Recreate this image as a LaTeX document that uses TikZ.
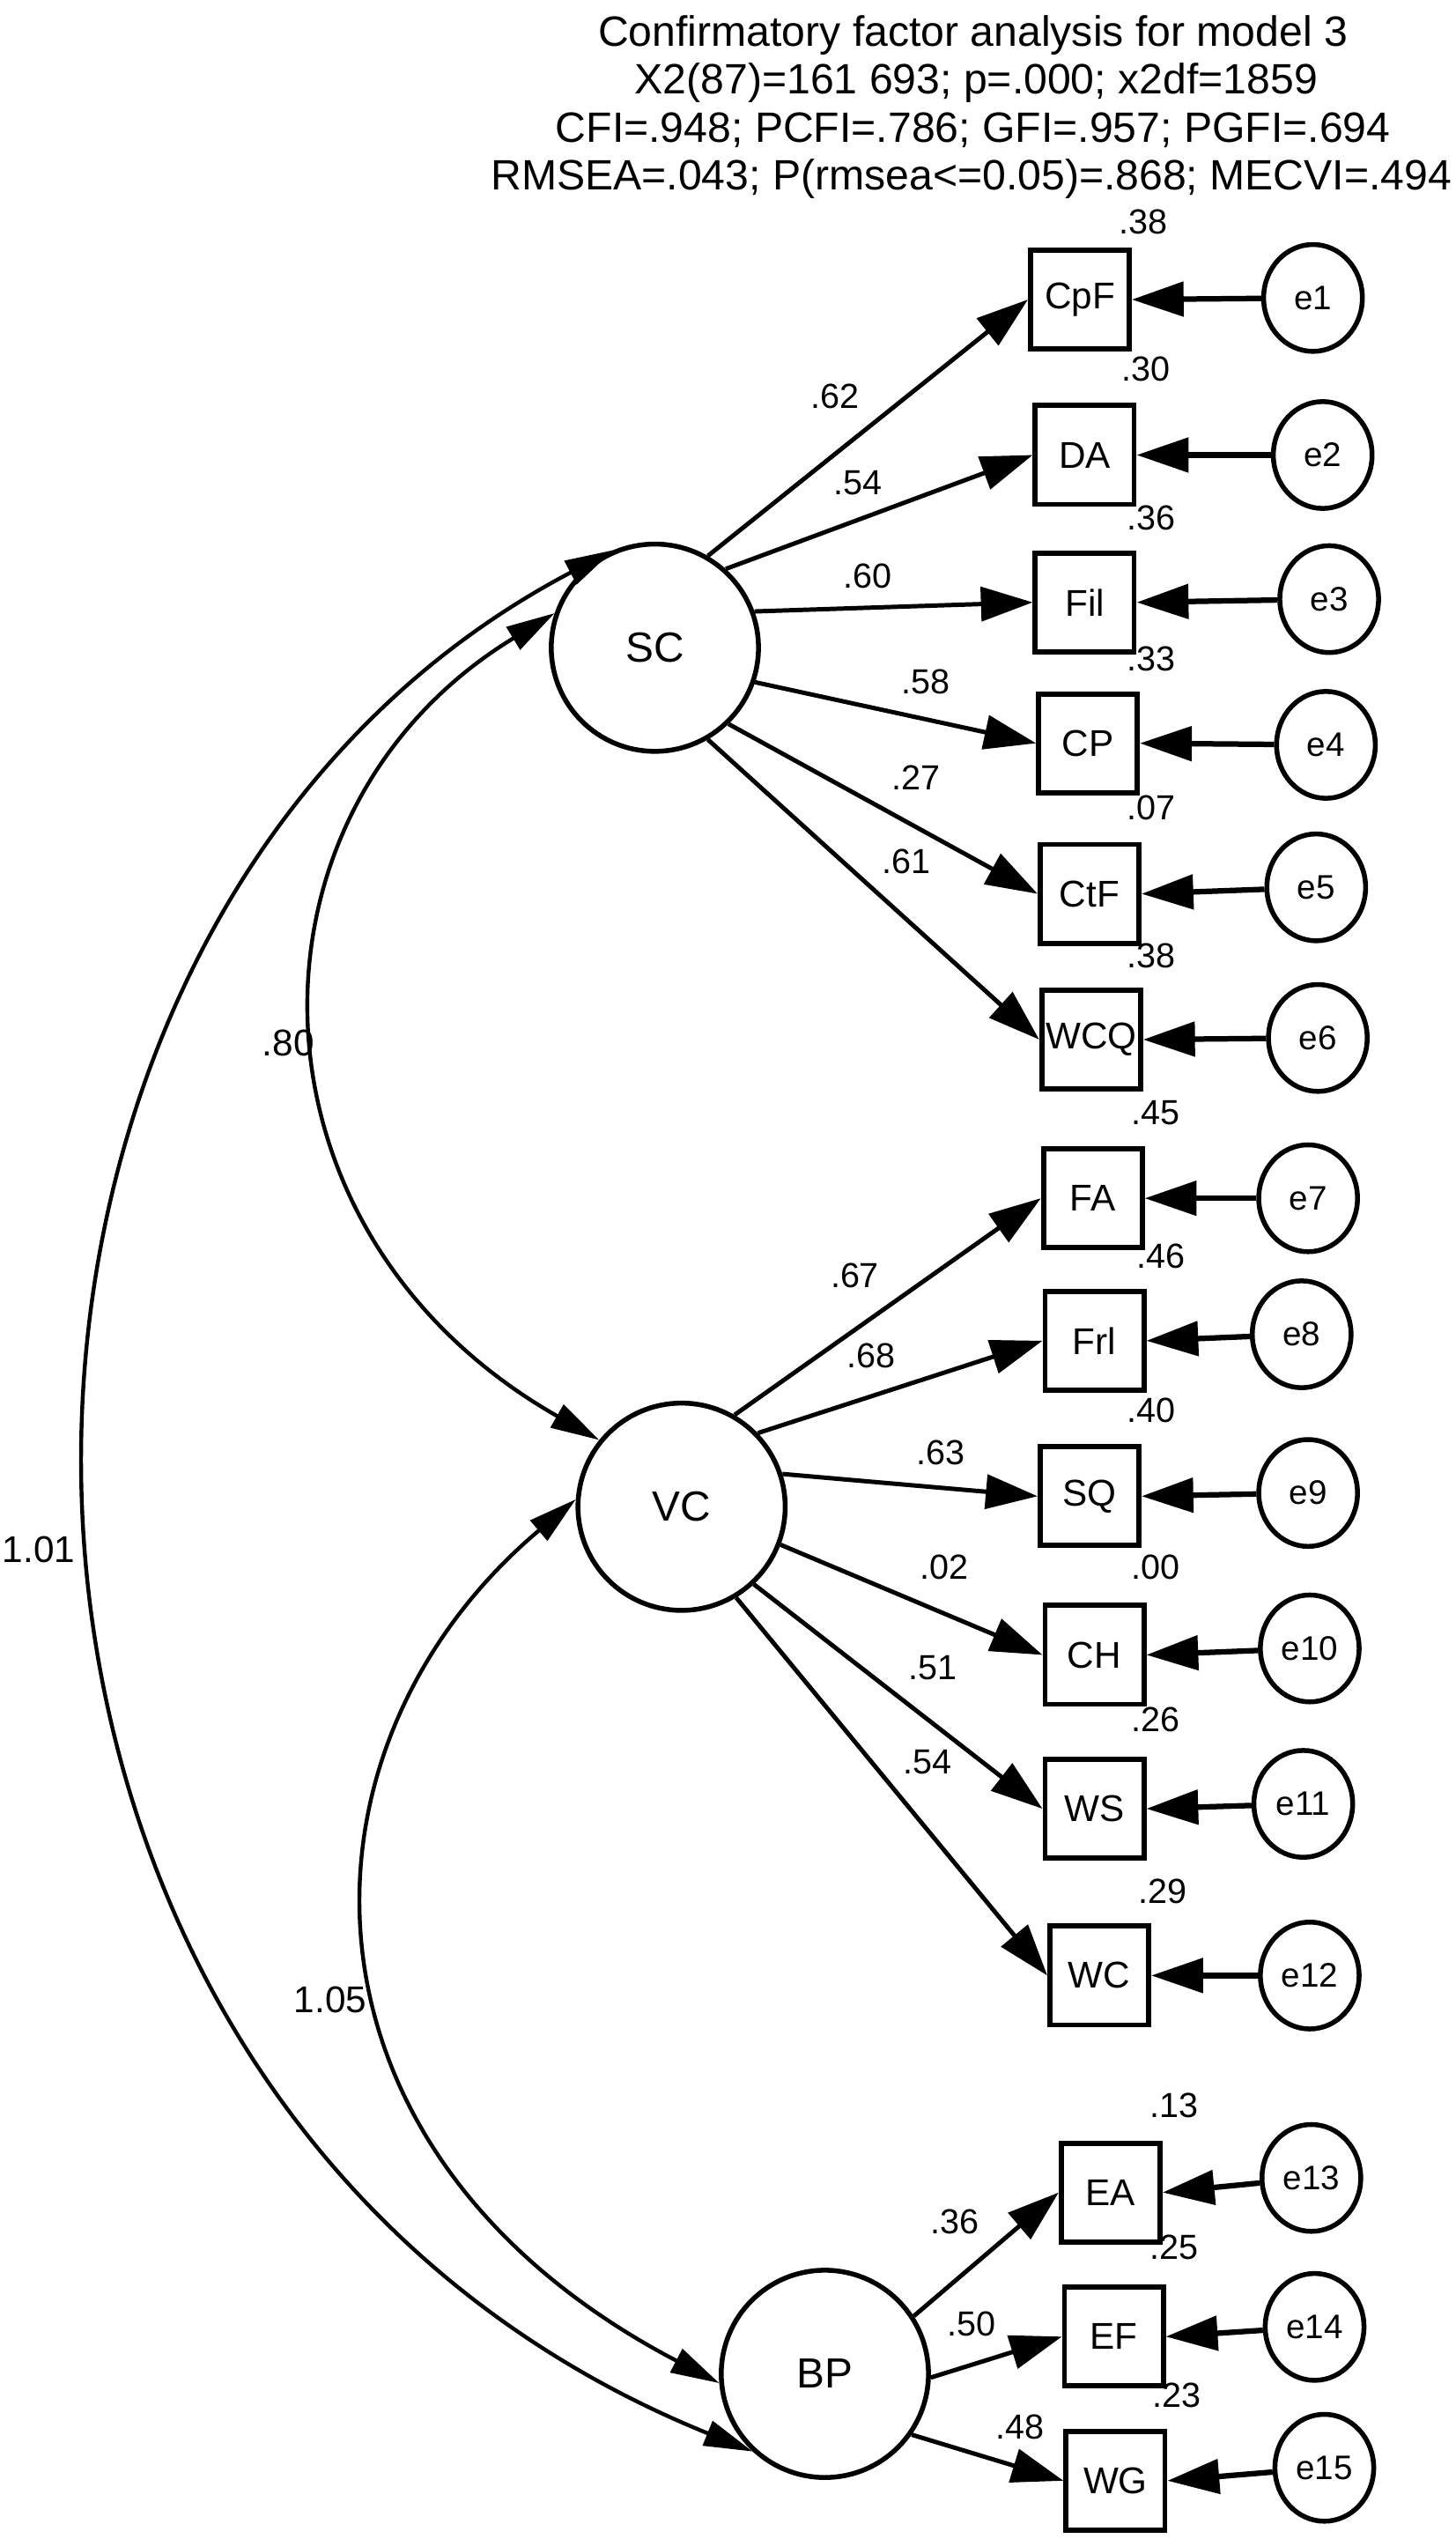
\documentclass[tikz,border=0pt]{standalone}
\usepackage{fontspec}
\setmainfont{Liberation Sans}
\usetikzlibrary{arrows.meta,shapes.geometric}
\begin{document}
\begin{tikzpicture}[x=1pt,y=-1pt,
  obs/.style={draw, line width=3.2pt, minimum width=61pt, minimum height=61pt, inner sep=0pt, font=\fontsize{23}{27}\selectfont},
  err/.style={draw, ellipse, line width=3pt, minimum width=61pt, minimum height=66pt, inner sep=0pt, font=\fontsize{21}{25}\selectfont},
  lat/.style={draw, circle, line width=3pt, minimum size=128pt, inner sep=0pt, font=\fontsize{26}{30}\selectfont},
  lbl/.style={inner sep=0pt, font=\fontsize{21.5}{25}\selectfont},
  clbl/.style={inner sep=0pt, font=\fontsize{23}{27}\selectfont},
  ttl/.style={anchor=base, inner sep=0pt, font=\fontsize{26.2}{30}\selectfont},
  load/.style={line width=2.7pt, -{Triangle[length=32pt,width=21pt]}},
  resid/.style={line width=3.4pt, -{Triangle[length=32pt,width=21pt]}},
  corr/.style={line width=2.4pt, {Triangle[length=30pt,width=16pt]}-{Triangle[length=30pt,width=16pt]}},
]
\useasboundingbox (0,0) rectangle (899,1568);
\fill[white] (0,0) rectangle (899,1568);

% title
\node[ttl] (t1) at (601,28.5) {Confirmatory factor analysis for model 3};
\node[ttl] (t2) at (603,58) {X2(87)=161 693; p=.000; x2df=1859};
\node[ttl] (t3) at (601,88) {CFI=.948; PCFI=.786; GFI=.957; PGFI=.694};
\node[ttl] (t4) at (600,117.5) {RMSEA=.043; P(rmsea<=0.05)=.868; MECVI=.494};

% latent
\node[lat] (SC) at (404.5,400) {SC};
\node[lat] (VC) at (421,930.5) {VC};
\node[lat] (BP) at (509.5,1466) {BP};

% observed
\node[obs] (CpF) at (667,185) {CpF};
\node[obs] (DA)  at (670,281) {DA};
\node[obs] (Fil) at (670,372) {Fil};
\node[obs] (CP)  at (672,459) {CP};
\node[obs] (CtF) at (673,552) {CtF};
\node[obs] (WCQ) at (674,642) {WCQ};
\node[obs] (FA)  at (675,740) {FA};
\node[obs] (Frl) at (676,828) {Frl};
\node[obs] (SQ)  at (673,924) {SQ};
\node[obs] (CH)  at (676,1022) {CH};
\node[obs] (WS)  at (676,1117) {WS};
\node[obs] (WC)  at (679,1220) {WC};
\node[obs] (EA)  at (686,1354) {EA};
\node[obs] (EF)  at (688,1443) {EF};
\node[obs] (WG)  at (689,1532) {WG};

% errors
\node[err] (e1)  at (811,184) {e1};
\node[err] (e2)  at (817,281) {e2};
\node[err] (e3)  at (821,370) {e3};
\node[err] (e4)  at (819,460) {e4};
\node[err] (e5)  at (813,548) {e5};
\node[err] (e6)  at (814,641) {e6};
\node[err] (e7)  at (808,740) {e7};
\node[err] (e8)  at (804,824) {e8};
\node[err] (e9)  at (808,922) {e9};
\node[err] (e10) at (809,1018) {e10};
\node[err] (e11) at (805,1114) {e11};
\node[err] (e12) at (809,1220) {e12};
\node[err] (e13) at (810,1345) {e13};
\node[err] (e14) at (812,1437) {e14};
\node[err] (e15) at (818,1524) {e15};

% residual arrows
\foreach \e/\b in {e1/CpF,e2/DA,e3/Fil,e4/CP,e5/CtF,e6/WCQ,e7/FA,e8/Frl,e9/SQ,e10/CH,e11/WS,e12/WC,e13/EA,e14/EF,e15/WG}
  \draw[resid] (\e) -- (\b.east);

% loadings
\foreach \a/\b in {60/CpF,48/DA,20/Fil,-19/CP,-46/CtF,-60/WCQ} \draw[load] (SC.\a) -- (\b.west);
\foreach \a/\b in {60/FA,44/Frl,18/SQ,-21/CH,-47/WS,-59/WC} \draw[load] (VC.\a) -- (\b.west);
\foreach \a/\b in {33/EA,-2/EF,-35/WG} \draw[load] (BP.\a) -- (\b.west);

% correlations
\draw[corr] (SC.161) .. controls (143,500) and (143,760) .. (VC.141);
\draw[corr] (SC.113) .. controls (-64,572) and (-64,1300) .. (BP.227);
\draw[corr] (VC.176) .. controls (173,1080) and (173,1330) .. (BP.185);

% loading labels
\node[lbl] (l1) at (516,245) {.62};
\node[lbl] (l2) at (530,298) {.54};
\node[lbl] (l3) at (536,356) {.60};
\node[lbl] (l4) at (572,421) {.58};
\node[lbl] (l5) at (566,480) {.27};
\node[lbl] (l6) at (560,532) {.61};
\node[lbl] (l7) at (528,788) {.67};
\node[lbl] (l8) at (538,837) {.68};
\node[lbl] (l9) at (581,897) {.63};
\node[lbl] (l10) at (583,968) {.02};
\node[lbl] (l11) at (576,1030) {.51};
\node[lbl] (l12) at (573,1088) {.54};
\node[lbl] (l13) at (590,1372) {.36};
\node[lbl] (l14) at (600,1435) {.50};
\node[lbl] (l15) at (630,1499) {.48};

% squared multiple correlations
\node[lbl] (r1) at (706,137) {.38};
\node[lbl] (r2) at (708,228) {.30};
\node[lbl] (r3) at (711,320) {.36};
\node[lbl] (r4) at (711,407) {.33};
\node[lbl] (r5) at (711,499) {.07};
\node[lbl] (r6) at (711,590) {.38};
\node[lbl] (r7) at (714,687) {.45};
\node[lbl] (r8) at (717,776) {.46};
\node[lbl] (r9) at (711,871) {.40};
\node[lbl] (r10) at (714,968) {.00};
\node[lbl] (r11) at (714,1062) {.26};
\node[lbl] (r12) at (718,1168) {.29};
\node[lbl] (r13) at (725,1300) {.13};
\node[lbl] (r14) at (725,1388) {.25};
\node[lbl] (r15) at (727,1479) {.23};

% correlation labels
\node[clbl] (c1) at (178,644) {.80};
\node[clbl] (c2) at (24,957) {1.01};
\node[clbl] (c3) at (204,1235) {1.05};
\end{tikzpicture}
\end{document}
